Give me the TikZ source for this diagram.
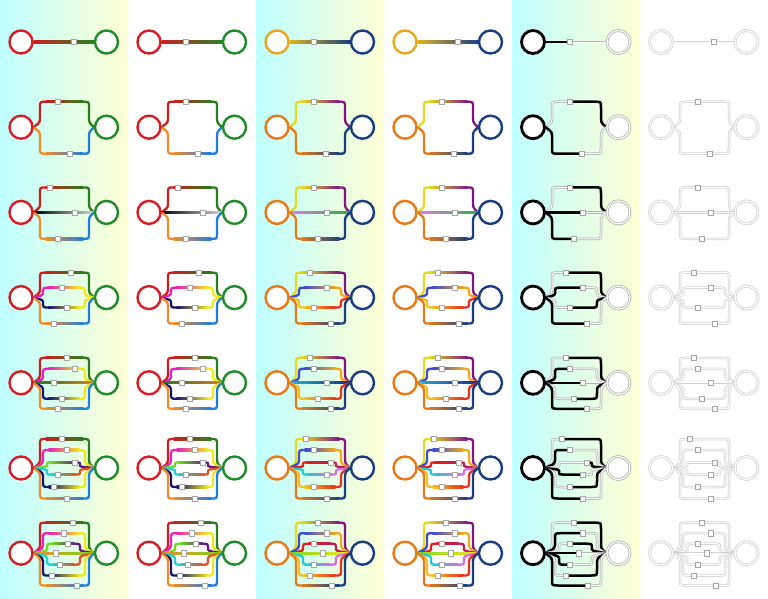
\documentclass[tikz,border=0pt]{standalone}
\newcommand\dc[2]{\definecolor{#1}{RGB}{#2}}
\newcommand\kk[2]{\colorlet{#1#2o}{black}\colorlet{#1#2i}{black}}
\newcommand\hol[3]{\colorlet{#1#2o}{#3}\colorlet{#1#2i}{white}}
% background
\dc{bgL}{190,255,255}\dc{bgR}{255,255,212}
% palette A (columns 1-2)
\dc{CLpA}{214,30,36}\dc{CL1pA}{214,30,36}\dc{CRpA}{30,140,40}
\dc{R1apA}{205,30,30}\dc{R1bpA}{40,130,35}
\dc{T1apA}{205,30,30}\dc{T1bpA}{40,125,30}
\dc{B1apA}{242,140,40}\dc{B1bpA}{30,125,225}
\dc{T2apA}{232,30,190}\dc{T2bpA}{240,232,30}
\dc{B2apA}{20,20,115}\dc{B2bpA}{240,232,30}
\dc{T3apA}{110,220,30}\dc{T3bpA}{100,25,130}
\dc{B3apA}{30,210,205}\dc{B3bpA}{232,80,30}
\dc{M3apA}{0,0,0}\dc{M3bpA}{215,215,215}
\dc{M5apA}{40,120,30}\dc{M5bpA}{215,125,30}
\dc{M7apA}{242,140,40}\dc{M7bpA}{110,220,30}
% palette B (columns 3-4)
\dc{CLpB}{232,122,22}\dc{CL1pB}{232,168,28}\dc{CRpB}{25,62,128}
\dc{R1apB}{225,178,30}\dc{R1bpB}{25,62,128}
\dc{T1apB}{228,218,30}\dc{T1bpB}{130,20,130}
\dc{B1apB}{228,122,30}\dc{B1bpB}{25,62,128}
\dc{T2apB}{60,72,215}\dc{T2bpB}{245,168,30}
\dc{B2apB}{245,190,30}\dc{B2bpB}{230,50,30}
\dc{T3apB}{228,30,30}\dc{T3bpB}{185,30,85}
\dc{B3apB}{40,200,210}\dc{B3bpB}{215,110,232}
\dc{M3apB}{232,120,232}\dc{M3bpB}{40,180,60}
\dc{M5apB}{40,180,200}\dc{M5bpB}{30,40,140}
\dc{M7apB}{120,220,30}\dc{M7bpB}{242,232,30}
% palette E (column 5): black / hollow
\kk{CL}{pE}\kk{CL1}{pE}\hol{CR}{pE}{gray!60}
\kk{R1a}{pE}\hol{R1b}{pE}{gray!60}
\hol{T1a}{pE}{gray!60}\kk{T1b}{pE}
\kk{T2a}{pE}\hol{T2b}{pE}{gray!60}
\hol{T3a}{pE}{gray!60}\kk{T3b}{pE}
\kk{M3a}{pE}\hol{M3b}{pE}{gray!60}
\kk{M5a}{pE}\hol{M5b}{pE}{gray!60}
\kk{M7a}{pE}\hol{M7b}{pE}{gray!60}
\kk{B3a}{pE}\hol{B3b}{pE}{gray!60}
\hol{B2a}{pE}{gray!60}\kk{B2b}{pE}
\kk{B1a}{pE}\hol{B1b}{pE}{gray!60}
% palette F (column 6): all hollow light grey
\hol{CL}{pF}{gray!35}\hol{CL1}{pF}{gray!35}\hol{CR}{pF}{gray!35}
\hol{R1a}{pF}{gray!35}\hol{R1b}{pF}{gray!35}
\hol{T1a}{pF}{gray!35}\hol{T1b}{pF}{gray!35}
\hol{T2a}{pF}{gray!35}\hol{T2b}{pF}{gray!35}
\hol{T3a}{pF}{gray!35}\hol{T3b}{pF}{gray!35}
\hol{M3a}{pF}{gray!35}\hol{M3b}{pF}{gray!35}
\hol{M5a}{pF}{gray!35}\hol{M5b}{pF}{gray!35}
\hol{M7a}{pF}{gray!35}\hol{M7b}{pF}{gray!35}
\hol{B3a}{pF}{gray!35}\hol{B3b}{pF}{gray!35}
\hol{B2a}{pF}{gray!35}\hol{B2b}{pF}{gray!35}
\hol{B1a}{pF}{gray!35}\hol{B1b}{pF}{gray!35}

\tikzset{ln/.style={line width=2.3pt},
  stn/.style={fill=white,draw=gray!70,line width=0.5pt}}

\newcommand\station{\filldraw[stn] (\xst-2.6,\yy-2.6) rectangle (\xst+2.6,\yy+2.6);}

\newcommand\branch[5]{%
 \pgfmathsetmacro\gs{(#1>0)-(#1<0)}%
 \pgfmathsetmacro\gh{(\gs)*min(abs(#1)*0.4,8)}%
 \pgfmathsetmacro\gr{min(6,abs(#1)-abs(\gh))}%
 \pgfmathsetmacro\ya{\cY+(\gh)}%
 \pgfmathsetmacro\yc{\cY+0.35*(\gh)}%
 \pgfmathsetmacro\yd{\cY+0.4*(\gh)}%
 \pgfmathsetmacro\yy{\cY+(#1)}%
 \pgfmathsetmacro\yb{\yy-(\gs)*(\gr)}%
 \pgfmathsetmacro\xj{\cX+33.5}%
 \pgfmathsetmacro\xk{\cX+94}%
 \pgfmathsetmacro\xl{\cX+#2}%
 \pgfmathsetmacro\xr{\cX+#3}%
 \pgfmathsetmacro\xlc{\xj+0.4*(\xl-\xj)}%
 \pgfmathsetmacro\xrc{\xk-0.4*(\xk-\xr)}%
 \pgfmathsetmacro\xla{\xl+\gr}%
 \pgfmathsetmacro\xra{\xr-\gr}%
 \pgfmathsetmacro\xst{\cX+#4}%
 \ifnum\cmode=0
  \draw[ln,draw=#5a\cpal] (\xj,\cY) .. controls (\xlc,\yc) and (\xl,\yd) .. (\xl,\ya) -- (\xl,\yb) .. controls (\xl,\yy) .. (\xla,\yy);
  \draw[ln,draw=#5b\cpal] (\xk,\cY) .. controls (\xrc,\yc) and (\xr,\yd) .. (\xr,\ya) -- (\xr,\yb) .. controls (\xr,\yy) .. (\xra,\yy);
  \shade[left color=#5a\cpal,right color=#5b\cpal] (\xla-0.3,\yy-1.15) rectangle (\xra+0.3,\yy+1.15);
 \else
  \foreach \q/\w in {o/2.5,i/1}{%
   \draw[line width=\w pt,draw=#5a\cpal\q] (\xj,\cY) .. controls (\xlc,\yc) and (\xl,\yd) .. (\xl,\ya) -- (\xl,\yb) .. controls (\xl,\yy) .. (\xla,\yy) -- (\xst,\yy);
   \draw[line width=\w pt,draw=#5b\cpal\q] (\xk,\cY) .. controls (\xrc,\yc) and (\xr,\yd) .. (\xr,\ya) -- (\xr,\yb) .. controls (\xr,\yy) .. (\xra,\yy) -- (\xst,\yy);
  }%
 \fi
 \station}

\newcommand\straight[2]{%
 \pgfmathsetmacro\xj{\cX+33.5}\pgfmathsetmacro\xk{\cX+94}%
 \pgfmathsetmacro\xst{\cX+#1}\let\yy\cY
 \ifnum\cmode=0
  \shade[left color=#2a\cpal,right color=#2b\cpal] (\xj,\cY-1.15) rectangle (\xk,\cY+1.15);
 \else
  \foreach \q/\w in {o/2.5,i/1}{%
   \draw[line width=\w pt,draw=#2a\cpal\q] (\xj,\cY) -- (\xst,\cY);
   \draw[line width=\w pt,draw=#2b\cpal\q] (\xst,\cY) -- (\xk,\cY);}%
 \fi
 \station}

\newcommand\setcell[2]{%
 \pgfmathsetmacro\cX{(#1-1)*128}%
 \pgfmathsetmacro\cY{42+(#2-1)*85.2}%
 \ifcase#1\or\def\cpal{pA}\def\cmode{0}\or\def\cpal{pA}\def\cmode{0}%
 \or\def\cpal{pB}\def\cmode{0}\or\def\cpal{pB}\def\cmode{0}%
 \or\def\cpal{pE}\def\cmode{1}\or\def\cpal{pF}\def\cmode{1}\fi}

\newcommand\circles[1]{%
 \ifnum#1=1 \def\cLname{CL1}\else\def\cLname{CL}\fi
 \ifnum\cmode=0
  \draw[line width=2.4pt,draw=\cLname\cpal,fill=white] (\cX+21,\cY) circle[radius=11.5];
  \draw[line width=2.4pt,draw=CR\cpal,fill=white] (\cX+106.5,\cY) circle[radius=11.5];
 \else
  \fill[white] (\cX+21,\cY) circle[radius=11.5];
  \fill[white] (\cX+106.5,\cY) circle[radius=11.5];
  \foreach \q/\w in {o/2.8,i/1.2}{%
   \draw[line width=\w pt,draw=\cLname\cpal\q] (\cX+21,\cY) circle[radius=11.5];
   \draw[line width=\w pt,draw=CR\cpal\q] (\cX+106.5,\cY) circle[radius=11.5];}%
 \fi}

\newcommand\drawcell[3]{\setcell{#1}{#2}#3\circles{#2}}
\newcommand\rowall[3]{%
 \foreach \ci in {1,2}{\drawcell{\ci}{#1}{#2}}%
 \foreach \ci in {3,4,5,6}{\drawcell{\ci}{#1}{#3}}}

% row layouts: dy, x-left, x-right, station, role
\newcommand\rowA[1]{\straight{#1}{R1}}
\newcommand\rowB[2]{\branch{-25.5}{40}{89}{#1}{T1}\branch{26.5}{40}{89}{#2}{B1}}
\newcommand\rowC[3]{\branch{-25}{40}{89}{#1}{T1}\straight{#2}{M3}\branch{26.5}{40}{89}{#3}{B1}}
\newcommand\rowD[4]{\branch{-25}{40}{89}{#1}{T1}\branch{-10}{43}{85}{#2}{T2}%
 \branch{10}{43}{85}{#3}{B2}\branch{26}{40}{89}{#4}{B1}}
\newcommand\rowE[5]{\branch{-25}{40}{89}{#1}{T1}\branch{-14}{43}{85}{#2}{T2}%
 \straight{#3}{M5}\branch{16}{43}{85}{#4}{B2}\branch{26}{40}{89}{#5}{B1}}
\newcommand\rowF[6]{\branch{-29}{40}{89}{#1}{T1}\branch{-18}{43}{85}{#2}{T2}%
 \branch{-5.5}{47}{80}{#3}{T3}\branch{6.5}{47}{80}{#4}{B3}%
 \branch{19}{43}{85}{#5}{B2}\branch{30.5}{40}{89}{#6}{B1}}
\newcommand\rowG[7]{\branch{-30.5}{40}{89}{#1}{T1}\branch{-20}{43}{85}{#2}{T2}%
 \branch{-9.5}{47}{80}{#3}{T3}\straight{#4}{M7}\branch{11.5}{47}{80}{#5}{B3}%
 \branch{22.3}{43}{85}{#6}{B2}\branch{32.3}{40}{89}{#7}{B1}}

\begin{document}
\begin{tikzpicture}[x=1pt,y=-1pt]
\useasboundingbox (0,0) rectangle (768,598);
\fill[white] (0,0) rectangle (768,598);
\foreach \k in {0,256,512}{\shade[left color=bgL,right color=bgR] (\k,0) rectangle (\k+128,598);}
% row 1
\drawcell{1}{1}{\rowA{74}}
\drawcell{2}{1}{\rowA{58}}
\drawcell{3}{1}{\rowA{58}}
\drawcell{4}{1}{\rowA{74}}
\drawcell{5}{1}{\rowA{58}}
\drawcell{6}{1}{\rowA{74}}
% rows 2-7
\rowall{2}{\rowB{58}{70}}{\rowB{58}{70}}
\rowall{3}{\rowC{50}{75}{58}}{\rowC{58}{71}{62}}
\rowall{4}{\rowD{71}{62}{67}{54}}{\rowD{54}{71}{58}{75}}
\rowall{5}{\rowE{67}{75}{54}{62}{58}}{\rowE{54}{58}{71}{62}{75}}
\rowall{6}{\rowF{62}{67}{75}{58}{54}{67}}{\rowF{50}{58}{75}{71}{58}{71}}
\rowall{7}{\rowG{73}{64}{68}{56}{60}{52}{77}}{\rowG{62}{71}{58}{67}{58}{54}{76}}
\end{tikzpicture}
\end{document}
